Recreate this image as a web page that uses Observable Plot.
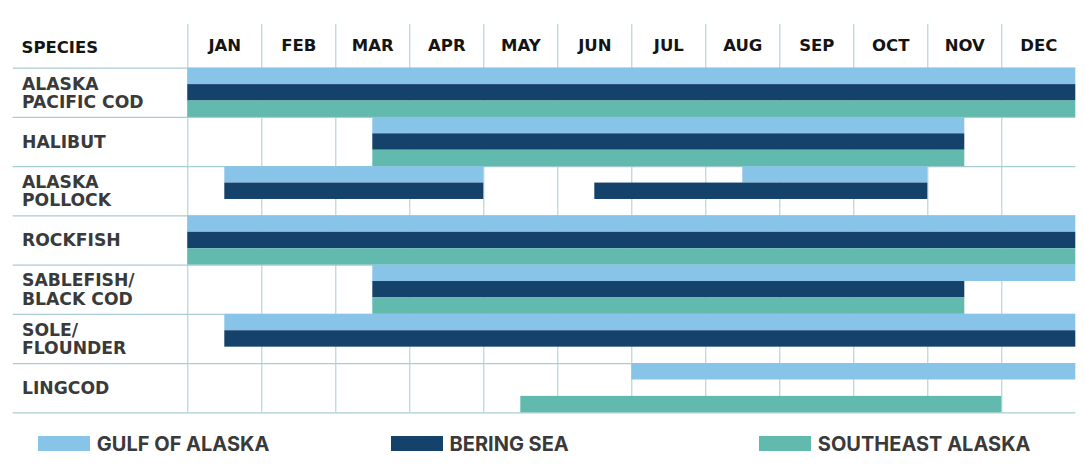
<!DOCTYPE html>
<html>
<head>
<meta charset="utf-8">
<script src="https://cdn.jsdelivr.net/npm/d3@7"></script>
<script src="https://cdn.jsdelivr.net/npm/@observablehq/plot@0.6"></script>
<style>
  html, body { margin: 0; padding: 0; background: #fff; }
  #wrap { width: 1085px; height: 473px; position: relative; font-family: Inter, "DejaVu Sans", sans-serif; }
  #legend { position: relative; height: 48px; }
  .item { position: absolute; top: 10.7px; display: flex; align-items: center; }
  .sw { width: 52px; height: 15.6px; margin-right: 6.5px; }
  .lab { font-size: 20px; font-weight: 700; color: #3a3a3a; line-height: 16px; }
</style>
</head>
<body>
<div id="wrap"></div>
<script>
const months = ["JAN","FEB","MAR","APR","MAY","JUN","JUL","AUG","SEP","OCT","NOV","DEC"];
const species = ["ALASKA\nPACIFIC COD","HALIBUT","ALASKA\nPOLLOCK","ROCKFISH","SABLEFISH/\nBLACK COD","SOLE/\nFLOUNDER","LINGCOD"];
const regions = ["GULF OF ALASKA","BERING SEA","SOUTHEAST ALASKA"];
const regionColors = ["#88c4e7","#14426a","#62b9ae"];

// each season: species index, region index, start month, end month (0 = start of Jan, 12 = end of Dec)
const seasonSpecies = [0,0,0, 1,1,1, 2,2,2,2, 3,3,3, 4,4,4, 5,5, 6,6];
const seasonRegion  = [0,1,2, 0,1,2, 0,0,1,1, 0,1,2, 0,1,2, 0,1, 0,2];
const seasonStart   = [0,0,0, 2.5,2.5,2.5, 0.5,7.5,0.5,5.5, 0,0,0, 2.5,2.5,2.5, 0.5,0.5, 6,4.5];
const seasonEnd     = [12,12,12, 10.5,10.5,10.5, 4,10,4,10, 12,12,12, 12,10.5,10.5, 12,12, 12,11];

const seasons = seasonSpecies.map((s, i) => ({
  species: s, region: regions[seasonRegion[i]], slot: s * 3 + seasonRegion[i],
  start: seasonStart[i], end: seasonEnd[i]
}));

const grid = "#a9cdd2";
const W = 1085, H = 425;
const mL = 187.3, mR = 9.7, mT = 67.7, mB = 12.7;
const font = "'DejaVu Sans', sans-serif";

const chart = Plot.plot({
  width: W, height: H,
  marginLeft: mL, marginRight: mR, marginTop: mT, marginBottom: mB,
  style: {fontFamily: font, background: "#fff"},
  x: {domain: [0, 12], axis: null},
  y: {domain: [0, species.length * 3], reverse: true, axis: null},
  color: {domain: regions, range: regionColors},
  marks: [
    Plot.ruleX(months.map((d, i) => i), {x: d => d, stroke: grid, strokeWidth: 1, insetTop: -(mT - 24)}),
    Plot.ruleY(species.map((d, i) => i * 3).concat([species.length * 3]), {y: d => d, stroke: grid, strokeWidth: 1.2, insetLeft: -(mL - 12.7)}),
    Plot.rect(seasons, {x1: "start", x2: "end", y1: "slot", y2: d => d.slot + 1, fill: "region"}),
    Plot.text(months, {x: (d, i) => i + 0.5, frameAnchor: "top", lineAnchor: "middle", dy: -22, fontSize: 16.5, fontWeight: 700, fill: "#141414"}),
    Plot.text(["SPECIES"], {frameAnchor: "top-left", lineAnchor: "middle", dx: -(mL - 21), dy: -20.3, textAnchor: "start", fontSize: 16.5, fontWeight: 700, fill: "#141414"}),
    Plot.text(species, {y: (d, i) => i * 3 + 1.5, frameAnchor: "left", lineAnchor: "middle", dx: -(mL - 21.5), textAnchor: "start", fontSize: 17.2, fontWeight: 700, lineHeight: 1.05, fill: "#3a3a3a"})
  ]
});

const wrap = document.getElementById("wrap");
wrap.appendChild(chart);

const legend = document.createElement("div");
legend.id = "legend";
const legendLeft = [38.3, 391, 759.3];
regions.forEach((r, i) => {
  const item = document.createElement("div");
  item.className = "item";
  item.style.left = legendLeft[i] + "px";
  const sw = document.createElement("div");
  sw.className = "sw";
  sw.style.background = regionColors[i];
  const lab = document.createElement("span");
  lab.className = "lab";
  lab.textContent = r;
  item.appendChild(sw);
  item.appendChild(lab);
  legend.appendChild(item);
});
wrap.appendChild(legend);
</script>
</body>
</html>
